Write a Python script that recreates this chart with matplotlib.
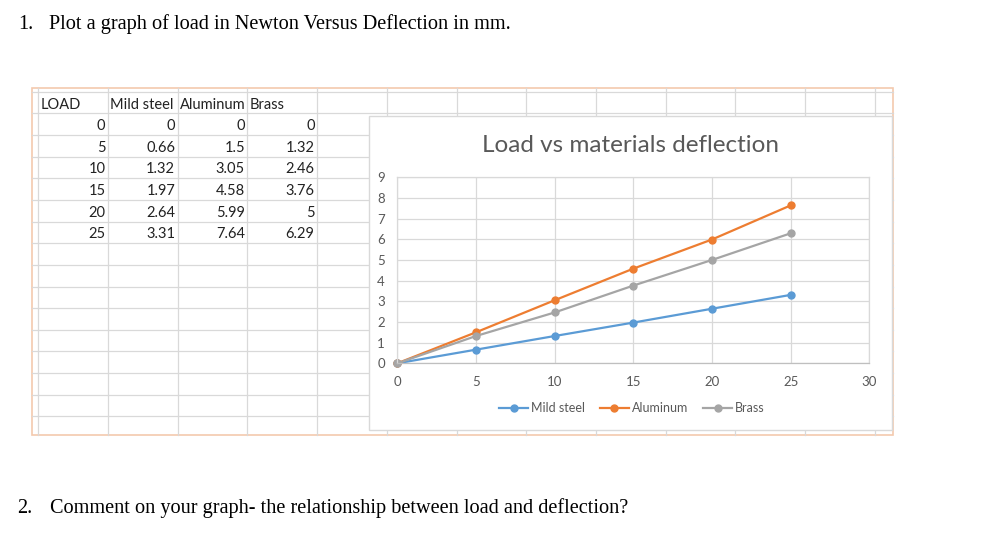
import matplotlib.pyplot as plt
from matplotlib.patches import Rectangle

# data from the sheet
load = [0, 5, 10, 15, 20, 25]
mild_steel = [0, 0.66, 1.32, 1.97, 2.64, 3.31]
aluminum = [0, 1.5, 3.05, 4.58, 5.99, 7.64]
brass = [0, 1.32, 2.46, 3.76, 5, 6.29]
headers = ['LOAD', 'Mild steel', 'Aluminum', 'Brass']

title = 'Load vs materials deflection'
q1 = 'Plot a graph of load in Newton Versus Deflection in mm.'
q2 = 'Comment on your graph- the relationship between load and deflection?'

W, H = 982, 556
fig = plt.figure(figsize=(W / 100, H / 100), dpi=100)
bg = fig.add_axes([0, 0, 1, 1])
bg.set_xlim(0, W)
bg.set_ylim(H, 0)
bg.axis('off')

serif = 'Liberation Serif'
sheet_font = 'Lato'
grid_c = '#d9d9d9'

# question text
bg.text(18, 29, '1.', fontsize=14.6, family=serif, va='baseline')
bg.text(49, 29, q1, fontsize=14.6, family=serif, va='baseline')
bg.text(17, 513, '2.', fontsize=14.6, family=serif, va='baseline')
bg.text(50, 513, q2, fontsize=14.6, family=serif, va='baseline')

# spreadsheet grid
left, right, top, bottom = 31.7, 893.3, 88.3, 435
col0, col_w = 38.3, 69.7
row0, row_h = 91.7, 21.65
cols = [col0 + col_w * k for k in range(13)]
rows = [row0 + row_h * k for k in range(16)]
for x in cols:
    bg.plot([x, x], [top, bottom], color=grid_c, lw=0.9)
for y in rows:
    bg.plot([left, right], [y, y], color=grid_c, lw=0.9)
bg.add_patch(Rectangle((left, top), right - left, bottom - top,
                       fill=False, ec='#f3c9ae', lw=1.2))

# header row
for i, h in enumerate(headers):
    t = bg.text(cols[i] + 2.5, row0 + row_h / 2 + 2, h, fontsize=10.5,
                family=sheet_font, va='center', ha='left', color='#222222')
    if i < 3:
        clip = Rectangle((cols[i], row0), col_w, row_h, transform=bg.transData)
        t.set_clip_path(clip)

# values
table = [load, mild_steel, aluminum, brass]
for j in range(len(load)):
    y = row0 + row_h * (j + 1.5) + 2
    for i, col in enumerate(table):
        bg.text(cols[i + 1] - 2.5, y, f'{col[j]:g}', fontsize=10.5,
                family=sheet_font, va='center', ha='right', color='#222222')

# chart box
bg.add_patch(Rectangle((369.3, 116), 523, 314, fc='white', ec=grid_c,
                       lw=1, zorder=5))
bg.text(630.5, 146, title, fontsize=17.5, family=sheet_font,
        color='#595959', ha='center', va='center', zorder=6)

px0, px1, py0, py1 = 397.3, 869.3, 177.3, 363.3
ax = fig.add_axes([px0 / W, 1 - py1 / H, (px1 - px0) / W, (py1 - py0) / H])
ax.set_zorder(10)
ax.patch.set_alpha(0)

ax.plot(load, mild_steel, color='#5b9bd5', lw=1.6, marker='o', ms=5,
        label='Mild steel', clip_on=False)
ax.plot(load, aluminum, color='#ed7d31', lw=1.6, marker='o', ms=5,
        label='Aluminum', clip_on=False)
ax.plot(load, brass, color='#a5a5a5', lw=1.6, marker='o', ms=5,
        label='Brass', clip_on=False)

ax.set_xlim(0, 30)
ax.set_ylim(0, 9)
ax.set_xticks(range(0, 31, 5))
ax.set_yticks(range(0, 10))
ax.grid(True, color=grid_c, lw=0.9)
ax.set_axisbelow(True)
for s in ax.spines.values():
    s.set_color(grid_c)
    s.set_linewidth(0.9)
ax.spines['bottom'].set_color('#bfbfbf')
ax.tick_params(length=0, labelsize=9.5, labelcolor='#595959', pad=9)
for lab in ax.get_xticklabels() + ax.get_yticklabels():
    lab.set_family(sheet_font)

leg = fig.legend(loc='center', bbox_to_anchor=(632 / W, 1 - 408 / H), ncol=3,
                 frameon=False, handlelength=2.3,
                 handletextpad=0.25, columnspacing=1.2, labelcolor='#595959',
                 prop={'family': sheet_font, 'size': 9})
leg.set_zorder(11)

fig.savefig('out.png', dpi=100)
